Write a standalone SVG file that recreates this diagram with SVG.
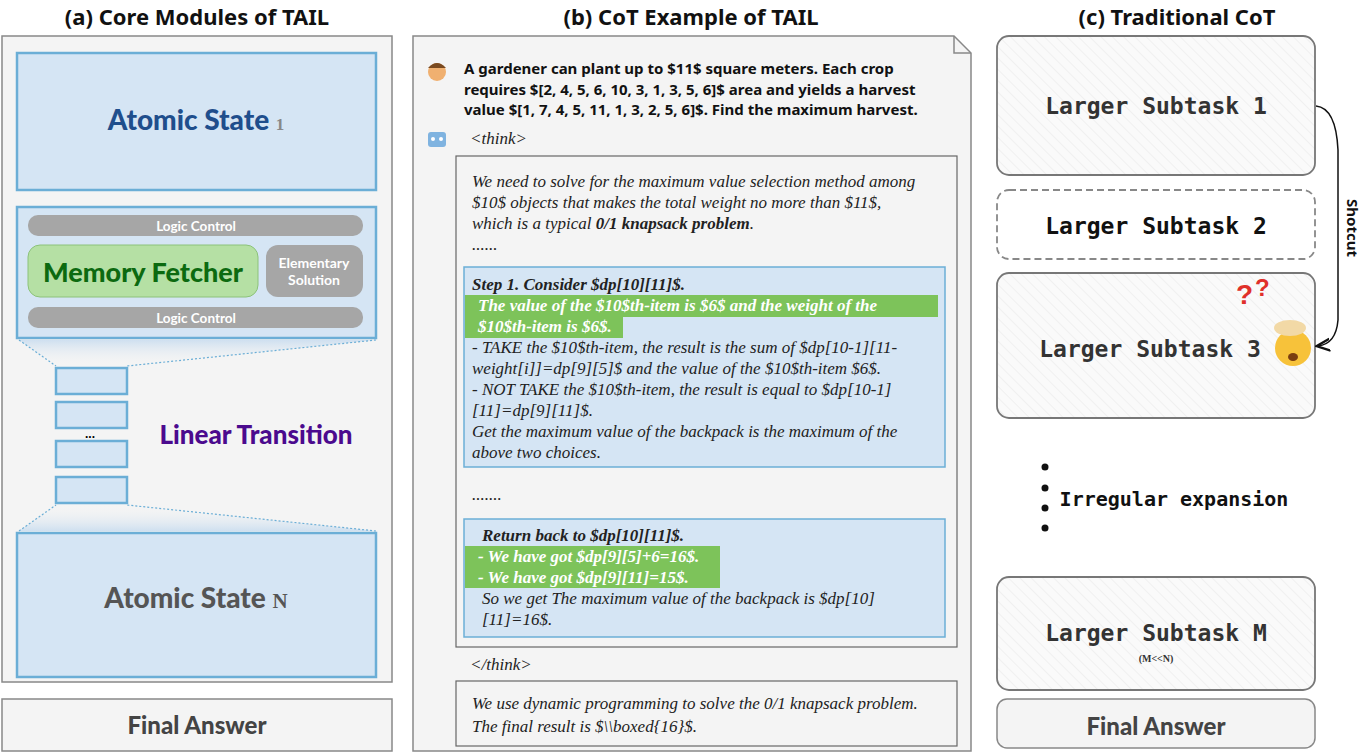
<svg xmlns="http://www.w3.org/2000/svg" width="1362" height="756" viewBox="0 0 1362 756">
<defs>
<style>
.t{font-family:"Noto Sans","Liberation Sans",sans-serif;font-weight:bold;fill:#111}
.blue{fill:#d5e5f4;stroke:#6baed6;stroke-width:2.5}
.gbar{fill:#a6a6a6}
.w{font-family:"Lato","Noto Sans",sans-serif;font-weight:bold;fill:#fff;text-anchor:middle}
.s{font-family:"Liberation Serif",serif;font-style:italic;font-size:17px;fill:#222}
.q{font-family:"Noto Sans","Liberation Sans",sans-serif;font-weight:bold;font-size:15px;fill:#111}
.hand{font-family:"DejaVu Sans Mono","Liberation Mono",monospace;font-weight:bold;fill:#333;text-anchor:middle}
.sk{fill:url(#hatch);stroke:#777;stroke-width:1.8}
</style>
<pattern id="hatch" width="8" height="8" patternUnits="userSpaceOnUse" patternTransform="rotate(-45)">
<rect width="8" height="8" fill="#fafafa"/><line x1="0" y1="0" x2="0" y2="8" stroke="#e6e6e6" stroke-width="1"/>
</pattern>
<linearGradient id="fadeDown" x1="0" y1="0" x2="0" y2="1"><stop offset="0" stop-color="#cfe0f0"/><stop offset="1" stop-color="#f4f4f4" stop-opacity="0"/></linearGradient>
<linearGradient id="fadeUp" x1="0" y1="1" x2="0" y2="0"><stop offset="0" stop-color="#cfe0f0"/><stop offset="1" stop-color="#f4f4f4" stop-opacity="0"/></linearGradient>
<marker id="ah" markerWidth="10" markerHeight="10" refX="8" refY="5" orient="auto"><path d="M0,1 L9,5 L0,9" fill="none" stroke="#111" stroke-width="1.5"/></marker>
</defs>
<rect width="1362" height="756" fill="#fff"/>
<text class="t" x="197" y="25" font-size="22" text-anchor="middle">(a) Core Modules of TAIL</text>
<text class="t" x="691" y="25" font-size="22" text-anchor="middle">(b) CoT Example of TAIL</text>
<text class="t" x="1177" y="25" font-size="22" text-anchor="middle">(c) Traditional CoT</text>

<g id="panelA">
<rect x="2" y="36" width="390" height="646" fill="#f4f4f4" stroke="#888" stroke-width="1.5"/>
<g id="state1"><rect class="blue" x="17" y="53" width="359" height="137"/>
<text x="196" y="130" font-family="Lato,'Noto Sans',sans-serif" font-weight="900" font-size="28" fill="#1f4e8c" text-anchor="middle">Atomic State <tspan font-size="17" fill="#888" font-family="'Liberation Serif',serif">1</tspan></text></g>
<g id="module"><rect class="blue" x="17" y="207" width="359" height="131"/>
<rect class="gbar" x="28" y="215" width="335" height="21" rx="10"/><text class="w" x="196" y="231" font-size="13.5">Logic Control</text>
<rect x="28" y="245" width="230" height="52" rx="12" fill="#b5e0a4" stroke="#8cc27a"/>
<text x="143" y="282" font-family="Lato,'Noto Sans',sans-serif" font-weight="900" font-size="27" fill="#0c6a10" text-anchor="middle">Memory Fetcher</text>
<rect class="gbar" x="266" y="245" width="97" height="52" rx="12"/>
<text class="w" x="314" y="268" font-size="14">Elementary</text><text class="w" x="314" y="285" font-size="14">Solution</text>
<rect class="gbar" x="28" y="307" width="335" height="21" rx="10"/><text class="w" x="196" y="323" font-size="13.5">Logic Control</text></g>
<path d="M19,340 L56,366 L127,366 L376,340 Z" fill="url(#fadeDown)"/>
<path d="M19,531 L56,505 L127,505 L376,531 Z" fill="url(#fadeUp)"/>
<g stroke="#6baed6" stroke-width="1.2" stroke-dasharray="2,2" fill="none">
<path d="M19,340 L56,366 M376,340 L127,366 M19,531 L56,505 M376,531 L127,505"/></g>
<g id="steps"><rect class="blue" x="56" y="368" width="71" height="26" stroke-width="2"/>
<rect class="blue" x="56" y="402" width="71" height="26" stroke-width="2"/>
<rect class="blue" x="56" y="441" width="71" height="26" stroke-width="2"/>
<rect class="blue" x="56" y="477" width="71" height="26" stroke-width="2"/>
<text x="90" y="438" font-family="Liberation Sans,sans-serif" font-size="12" font-weight="bold" text-anchor="middle">...</text></g>
<text x="256" y="444" font-family="Lato,'Noto Sans',sans-serif" font-weight="900" font-size="26" fill="#4b0a8e" text-anchor="middle">Linear Transition</text>
<g id="stateN"><rect class="blue" x="17" y="533" width="359" height="144"/>
<text x="196" y="608" font-family="Lato,'Noto Sans',sans-serif" font-weight="900" font-size="28" fill="#555" text-anchor="middle">Atomic State <tspan font-size="21" fill="#555" font-family="'Liberation Serif',serif">N</tspan></text></g>
</g>
<g id="finalA"><rect x="2" y="699" width="390" height="52" fill="#f4f4f4" stroke="#888" stroke-width="1.5"/>
<text x="197" y="734" font-family="Lato,'Noto Sans',sans-serif" font-weight="900" font-size="24" fill="#444" text-anchor="middle">Final Answer</text></g>

<g id="panelB">
<path d="M413,36 L954,36 L971,53 L971,751 L413,751 Z" fill="#f4f4f4" stroke="#888" stroke-width="1.5"/>
<path d="M954,36 L954,53 L971,53" fill="none" stroke="#888" stroke-width="1.5"/>
<circle cx="437" cy="72" r="9" fill="#f0b070"/><path d="M428,68 Q437,58 446,68 Z" fill="#7a4a20"/>
<text class="q" x="464" y="74">A gardener can plant up to $11$ square meters. Each crop</text>
<text class="q" x="464" y="95">requires $[2, 4, 5, 6, 10, 3, 1, 3, 5, 6]$ area and yields a harvest</text>
<text class="q" x="464" y="115">value $[1, 7, 4, 5, 11, 1, 3, 2, 5, 6]$. Find the maximum harvest.</text>
<rect x="428" y="132" width="18" height="15" rx="3" fill="#7fb3e0"/><circle cx="433" cy="139" r="2" fill="#fff"/><circle cx="441" cy="139" r="2" fill="#fff"/>
<text class="s" x="470" y="144" font-size="16">&lt;think&gt;</text>
<rect x="456" y="156" width="501" height="491" fill="#f4f4f4" stroke="#666" stroke-width="1.2"/>
<text class="s" x="472" y="187">We need to solve for the maximum value selection method among</text>
<text class="s" x="472" y="208">$10$ objects that makes the total weight no more than $11$,</text>
<text class="s" x="472" y="229">which is a typical <tspan font-weight="bold">0/1 knapsack problem</tspan>.</text>
<text class="s" x="472" y="250">......</text>
<g id="step1"><rect x="464" y="267" width="481" height="200" fill="#d5e5f4" stroke="#6baed6" stroke-width="1.5"/>
<rect x="465" y="295" width="473" height="22" fill="#7dc35a"/><rect x="465" y="317" width="158" height="21" fill="#7dc35a"/>
<text class="s" x="472" y="290" font-weight="bold">Step 1. Consider $dp[10][11]$.</text>
<text class="s" x="478" y="311" font-weight="bold" style="fill:#fff">The value of the $10$th-item is $6$ and the weight of the</text>
<text class="s" x="478" y="332" font-weight="bold" style="fill:#fff">$10$th-item is $6$.</text>
<text class="s" x="472" y="353">- TAKE the $10$th-item, the result is the sum of $dp[10-1][11-</text>
<text class="s" x="472" y="374">weight[i]]=dp[9][5]$ and the value of the $10$th-item $6$.</text>
<text class="s" x="472" y="395">- NOT TAKE the $10$th-item, the result is equal to $dp[10-1]</text>
<text class="s" x="472" y="416">[11]=dp[9][11]$.</text>
<text class="s" x="472" y="437">Get the maximum value of the backpack is the maximum of the</text>
<text class="s" x="472" y="458">above two choices.</text></g>
<text class="s" x="472" y="500">.......</text>
<g id="ret"><rect x="464" y="519" width="481" height="118" fill="#d5e5f4" stroke="#6baed6" stroke-width="1.5"/>
<rect x="465" y="546" width="255" height="21" fill="#7dc35a"/><rect x="465" y="567" width="255" height="21" fill="#7dc35a"/>
<text class="s" x="482" y="541" font-weight="bold">Return back to $dp[10][11]$.</text>
<text class="s" x="478" y="562" font-weight="bold" style="fill:#fff">- We have got $dp[9][5]+6=16$.</text>
<text class="s" x="478" y="583" font-weight="bold" style="fill:#fff">- We have got $dp[9][11]=15$.</text>
<text class="s" x="482" y="604">So we get The maximum value of the backpack is $dp[10]</text>
<text class="s" x="482" y="625">[11]=16$.</text></g>
<text class="s" x="470" y="670" font-size="16">&lt;/think&gt;</text>
<rect x="456" y="681" width="501" height="65" fill="#f4f4f4" stroke="#666" stroke-width="1.2"/>
<text class="s" x="472" y="709">We use dynamic programming to solve the 0/1 knapsack problem.</text>
<text class="s" x="472" y="732">The final result is $\\boxed{16}$.</text>
</g>

<g id="panelC">
<g id="sub1"><rect class="sk" x="997" y="36" width="318" height="139" rx="12"/><text class="hand" x="1156" y="114" font-size="23">Larger Subtask 1</text></g>
<g id="sub2"><rect x="997" y="190" width="318" height="69" rx="12" fill="#fff" stroke="#888" stroke-width="1.8" stroke-dasharray="7,4"/><text class="hand" x="1156" y="234" font-size="23" style="fill:#111">Larger Subtask 2</text></g>
<g id="sub3"><rect class="sk" x="997" y="273" width="318" height="145" rx="12"/><text class="hand" x="1150" y="357" font-size="23">Larger Subtask 3</text>
<text x="1236" y="304" font-family="Liberation Sans,sans-serif" font-weight="bold" font-size="28" fill="#e0302a">?</text>
<text x="1255" y="296" font-family="Liberation Sans,sans-serif" font-weight="bold" font-size="24" fill="#e0302a">?</text>
<circle cx="1293" cy="348" r="18" fill="#f7c23a"/><ellipse cx="1290" cy="328" rx="16" ry="8" fill="#f2d9a6"/><ellipse cx="1293" cy="357" rx="5" ry="4" fill="#7a3d10"/></g>
<g fill="#111"><circle cx="1045" cy="467" r="3.5"/><circle cx="1045" cy="488" r="3.5"/><circle cx="1045" cy="508" r="3.5"/><circle cx="1045" cy="528" r="3.5"/></g>
<text class="hand" x="1174" y="506" font-size="20" style="fill:#111">Irregular expansion</text>
<g id="subM"><rect class="sk" x="997" y="577" width="318" height="113" rx="12"/><text class="hand" x="1156" y="641" font-size="23">Larger Subtask M</text>
<text x="1156" y="662" font-family="Liberation Serif,serif" font-weight="bold" font-size="10" text-anchor="middle" fill="#333">(M&lt;&lt;N)</text></g>
<g id="finalC"><rect x="997" y="699" width="318" height="49" rx="10" fill="#f4f4f4" stroke="#888" stroke-width="1.5"/>
<text x="1156" y="735" font-family="Lato,'Noto Sans',sans-serif" font-weight="900" font-size="24" fill="#444" text-anchor="middle">Final Answer</text></g>
</g>
<g id="connectors">
<path d="M1316,106 Q1336,108 1338,150 L1338,320 Q1336,344 1318,346" fill="none" stroke="#111" stroke-width="1.5" marker-end="url(#ah)"/>
<text x="1347" y="228" font-family="Noto Sans,Liberation Sans,sans-serif" font-weight="bold" font-size="15" fill="#111" text-anchor="middle" transform="rotate(90 1347 228)">Shotcut</text>
</g>
</svg>
